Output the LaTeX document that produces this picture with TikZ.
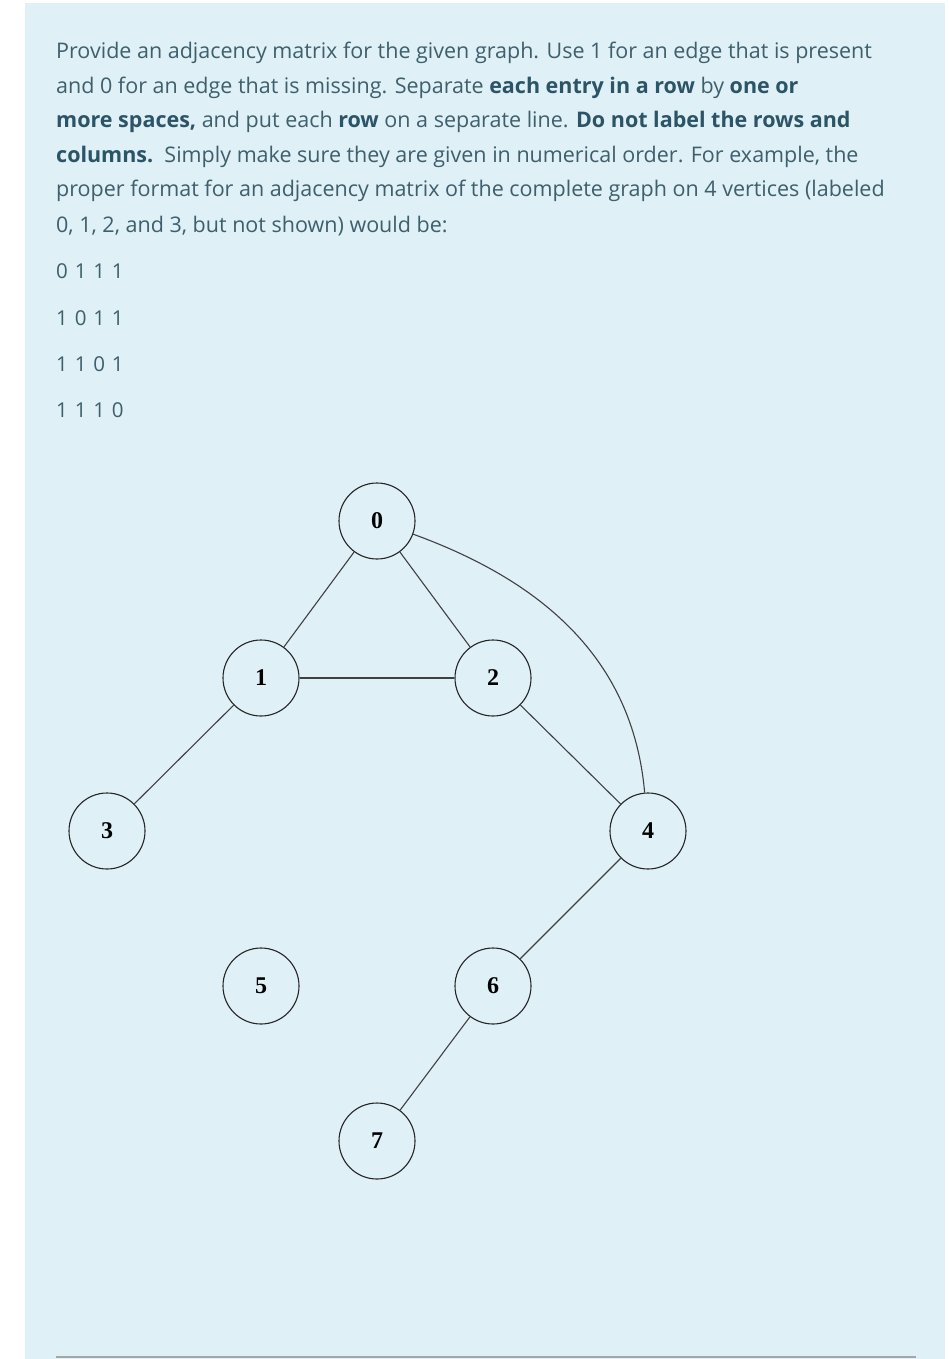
\documentclass[tikz,border=0pt]{standalone}
\usepackage{fontspec}
\setmainfont{Open Sans}
\newfontfamily\graphfont{Liberation Serif}
\definecolor{bgc}{HTML}{DFF0F7}
\definecolor{txt}{HTML}{3E5F6B}
\definecolor{bld}{HTML}{2B5566}
\begin{document}
\begin{tikzpicture}[x=1pt,y=-1pt,
  ln/.style={anchor=west,inner sep=0pt,text=txt,font=\fontsize{21.5}{23}\selectfont},
  mx/.style={anchor=west,inner sep=0pt,text=txt,font=\fontsize{20.5}{23}\selectfont},
  vtx/.style={circle,draw=black!85,line width=1.1pt,fill=bgc,minimum size=76pt,inner sep=0pt,font=\graphfont\bfseries\fontsize{24}{26}\selectfont},
  edge/.style={draw=black!75,line width=1.1pt}]
\useasboundingbox (0,0) rectangle (949,1359);
\fill[bgc] (25,3) rectangle (945,1359);
\draw[gray!70,line width=1.5pt] (56,1357) -- (916,1357);
\newcommand\bb[1]{\textbf{\color{bld}#1}}
\node[ln] (l1) at (56,53) {Provide an adjacency matrix for the given graph. Use 1 for an edge that is present};
\node[ln] (l2) at (56,88) {and 0 for an edge that is missing. Separate \bb{each entry in a row} by \bb{one or}};
\node[ln] (l3) at (56,122) {\bb{more spaces,} and put each \bb{row} on a separate line. \bb{Do not label the rows and}};
\node[ln] (l4) at (56,157) {\bb{columns.}\ \ Simply make sure they are given in numerical order. For example, the};
\node[ln] (l5) at (56,191) {proper format for an adjacency matrix of the complete graph on 4 vertices (labeled};
\node[ln] (l6) at (56,226) {0, 1, 2, and 3, but not shown) would be:};
\node[mx] (m1) at (56,271) {0\,\,1\,\,1\,\,1};
\node[mx] (m2) at (56,318) {1\,\,0\,\,1\,\,1};
\node[mx] (m3) at (56,364) {1\,\,1\,\,0\,\,1};
\node[mx] (m4) at (56,410) {1\,\,1\,\,1\,\,0};
\node[vtx] (v0) at (377,521) {0};
\node[vtx] (v1) at (261,678) {1};
\node[vtx] (v2) at (493,678) {2};
\node[vtx] (v3) at (107,831) {3};
\node[vtx] (v4) at (648,831) {4};
\node[vtx] (v5) at (261,986) {5};
\node[vtx] (v6) at (493,986) {6};
\node[vtx] (v7) at (377,1141) {7};
\draw[edge] (v0) -- (v1);
\draw[edge] (v0) -- (v2);
\draw[edge] (v1) -- (v2);
\draw[edge] (v1) -- (v3);
\draw[edge] (v2) -- (v4);
\draw[edge] (v4) -- (v6);
\draw[edge] (v6) -- (v7);
\draw[edge] (v0) to[out=-20,in=95] (v4);
\end{tikzpicture}
\end{document}
